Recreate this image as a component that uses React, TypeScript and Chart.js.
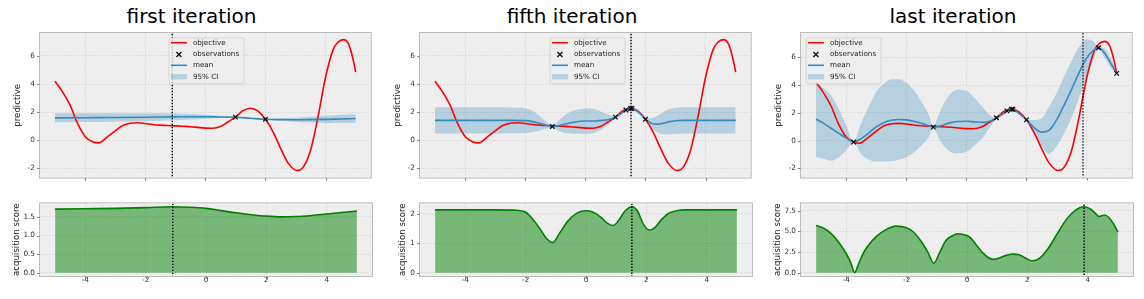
import React, { useEffect, useRef } from 'react';
import { Chart, registerables } from 'chart.js';

Chart.register(...registerables);

const FONT = "'DejaVu Sans', sans-serif";
Chart.defaults.font.family = FONT;
Chart.defaults.color = '#333';

// ---------------- data ----------------
const TITLES = ['first iteration', 'fifth iteration', 'last iteration'];
const X_TICKS = [-4, -2, 0, 2, 4];
const PRED_TICKS = [-2, 0, 2, 4, 6];
const ACQ_TICKS_FIRST = [0, 0.5, 1, 1.5];
const ACQ_TICKS_FIFTH = [0, 1, 2];
const ACQ_TICKS_LAST = [0, 2.5, 5, 7.5];
const LEGEND_LABELS = ['objective', 'observations', 'mean', '95% CI'];

const objectiveX = [-5, -4.75, -4.5, -4.25, -4, -3.75, -3.55, -3.25, -3, -2.75, -2.5, -2.25, -2, -1.75, -1.5, -1.25, -1, -0.75, -0.5, -0.25, 0, 0.25, 0.5, 0.75, 1, 1.25, 1.5, 1.75, 2, 2.25, 2.5, 2.75, 3.05, 3.25, 3.5, 3.75, 4, 4.25, 4.4, 4.6, 4.75, 4.85, 4.95, 5];
const objectiveY = [4.2, 3.45, 2.5, 1.2, 0.28, -0.1, -0.18, 0.26, 0.68, 1.06, 1.22, 1.25, 1.2, 1.13, 1.08, 1.05, 1.03, 1.0, 0.97, 0.92, 0.87, 0.86, 0.98, 1.3, 1.65, 2.1, 2.28, 2.08, 1.5, 0.6, -0.55, -1.6, -2.15, -1.92, -0.7, 1.7, 4.5, 6.45, 6.95, 7.16, 6.9, 6.3, 5.4, 4.85];

// first iteration
const obsFirstX = [1.0, 2.0];
const obsFirstY = [1.65, 1.5];
const meanFirstX = [-5, -4, -3, -2, -1, -0.5, 0, 0.5, 1, 1.5, 2, 2.5, 3, 3.5, 4, 4.5, 5];
const meanFirstY = [1.6, 1.61, 1.62, 1.64, 1.67, 1.68, 1.68, 1.66, 1.64, 1.57, 1.5, 1.47, 1.46, 1.47, 1.49, 1.52, 1.55];
const ciFirst = [0.32, 0.31, 0.3, 0.28, 0.24, 0.2, 0.14, 0.07, 0.01, 0.03, 0.01, 0.08, 0.15, 0.21, 0.26, 0.29, 0.31];
const acqFirstX = [-5, -4, -3, -2, -1.1, -0.5, 0, 0.5, 1, 1.5, 2, 2.5, 3, 3.5, 4, 4.5, 5];
const acqFirstY = [1.71, 1.72, 1.73, 1.75, 1.775, 1.76, 1.73, 1.67, 1.61, 1.56, 1.52, 1.5, 1.51, 1.54, 1.58, 1.62, 1.66];
const nextFirst = -1.1;

// fifth iteration
const obsFifthX = [-1.1, 1.0, 1.35, 1.5, 1.55, 2.0];
const obsFifthY = [0.98, 1.65, 2.15, 2.27, 2.26, 1.5];
const meanFifthX = [-5, -4, -3, -2.5, -2, -1.75, -1.5, -1.3, -1.1, -0.9, -0.6, -0.3, 0, 0.3, 0.6, 0.8, 1, 1.2, 1.35, 1.5, 1.75, 2, 2.2, 2.4, 2.6, 2.8, 3, 3.25, 3.5, 4, 5];
const meanFifthY = [1.42, 1.42, 1.42, 1.42, 1.4, 1.33, 1.2, 1.07, 0.98, 1.03, 1.2, 1.32, 1.37, 1.38, 1.42, 1.5, 1.63, 1.92, 2.13, 2.26, 2.05, 1.5, 1.22, 1.15, 1.22, 1.33, 1.39, 1.42, 1.42, 1.42, 1.42];
const ciFifth = [0.93, 0.93, 0.93, 0.92, 0.88, 0.75, 0.5, 0.25, 0.03, 0.35, 0.7, 0.85, 0.9, 0.85, 0.55, 0.3, 0.03, 0.07, 0.03, 0.03, 0.15, 0.03, 0.35, 0.6, 0.8, 0.9, 0.93, 0.93, 0.93, 0.93, 0.93];
const acqFifthX = [-5, -4, -3, -2.3, -2, -1.75, -1.5, -1.3, -1.1, -0.9, -0.6, -0.3, 0, 0.2, 0.5, 0.7, 0.9, 1.1, 1.3, 1.52, 1.7, 1.9, 2.1, 2.3, 2.5, 2.75, 3, 3.3, 4, 5];
const acqFifthY = [2.13, 2.13, 2.13, 2.12, 2.05, 1.8, 1.45, 1.15, 1.02, 1.3, 1.75, 2.02, 2.1, 2.07, 1.88, 1.68, 1.6, 1.8, 2.1, 2.24, 2.1, 1.65, 1.45, 1.55, 1.8, 2.02, 2.1, 2.13, 2.13, 2.13];
const nextFifth = 1.52;

// last iteration
const obsLastX = [-3.75, -1.1, 1.0, 1.35, 1.5, 1.55, 2.0, 4.4, 5.0];
const obsLastY = [-0.1, 0.98, 1.65, 2.15, 2.27, 2.26, 1.5, 6.7, 4.85];
const meanLastX = [-5, -4.75, -4.5, -4.25, -4, -3.75, -3.5, -3.25, -3, -2.75, -2.5, -2.25, -2, -1.75, -1.5, -1.25, -1.1, -0.9, -0.6, -0.3, 0, 0.3, 0.6, 0.8, 1, 1.2, 1.35, 1.5, 1.75, 2, 2.25, 2.5, 2.75, 3, 3.25, 3.5, 3.75, 4, 4.2, 4.4, 4.6, 4.8, 5];
const meanLastY = [1.55, 1.25, 0.9, 0.55, 0.2, -0.1, 0.15, 0.55, 1.0, 1.3, 1.47, 1.53, 1.5, 1.4, 1.25, 1.07, 0.98, 1.05, 1.25, 1.38, 1.4, 1.35, 1.32, 1.42, 1.63, 1.9, 2.13, 2.25, 1.98, 1.5, 0.95, 0.62, 0.75, 1.5, 2.55, 3.7, 4.9, 5.95, 6.45, 6.7, 6.3, 5.6, 4.85];
const ciLast = [2.75, 2.55, 2.35, 1.75, 0.9, 0.05, 1.1, 1.9, 2.5, 2.8, 2.95, 2.9, 2.7, 2.25, 1.6, 0.8, 0.05, 0.95, 1.95, 2.3, 2.2, 1.65, 0.95, 0.4, 0.05, 0.07, 0.04, 0.04, 0.12, 0.05, 0.55, 1.0, 1.7, 1.9, 2.05, 2.05, 1.85, 1.35, 0.75, 0.05, 0.35, 0.35, 0.05];
const acqLastX = [-5, -4.75, -4.5, -4.25, -4, -3.85, -3.72, -3.6, -3.4, -3, -2.7, -2.35, -2, -1.75, -1.5, -1.3, -1.1, -0.9, -0.7, -0.5, -0.3, -0.1, 0.1, 0.3, 0.5, 0.7, 0.87, 1.05, 1.25, 1.5, 1.75, 1.95, 2.15, 2.4, 2.7, 3, 3.3, 3.6, 3.88, 4.1, 4.25, 4.38, 4.55, 4.7, 4.85, 5];
const acqLastY = [5.72, 5.4, 4.75, 3.7, 2.3, 1.2, 0.0, 1.0, 2.6, 4.4, 5.2, 5.65, 5.45, 4.85, 3.7, 2.5, 1.15, 2.5, 3.9, 4.45, 4.72, 4.6, 4.3, 3.4, 2.5, 1.85, 1.62, 1.75, 2.05, 2.25, 2.15, 1.75, 1.45, 1.75, 3.0, 4.8, 6.5, 7.6, 8.0, 7.7, 7.2, 6.82, 7.0, 6.7, 5.95, 4.93];
const nextLast = 3.88;

// ---------------- layout ----------------
const AXIS_LEFT = [40, 420, 801];
const AXIS_W = 332;
const TITLE_CENTER = [191.5, 572, 953];
const LEGEND_OFFSET = [128.5, 129.5, 4.5];
const PRED_RANGE = [[-2.65, 7.63], [-2.65, 7.63], [-2.66, 7.76]];
const ACQ_RANGE = [[-0.089, 1.864], [-0.112, 2.352], [-0.4, 8.41]];

const GRID_COLOR = '#cbcbcb';
const BLUE = '#348ABD';
const LINE_W = 1.6;

const pts = (xs: number[], ys: number[]) => xs.map((x, i) => ({ x, y: ys[i] }));

function drawLegend(ctx: CanvasRenderingContext2D, a: any, off: number) {
  const bx = a.left + off;
  const by = a.top + 4.3;
  const bw = 75;
  const bh = 46;
  ctx.save();
  ctx.beginPath();
  (ctx as any).roundRect(bx + 0.5, by + 0.5, bw, bh, 2);
  ctx.fillStyle = 'rgba(238,238,238,0.8)';
  ctx.fill();
  ctx.strokeStyle = 'rgba(204,204,204,0.9)';
  ctx.lineWidth = 0.8;
  ctx.stroke();
  const rows = [5.4, 16.7, 28, 39.4];
  const x0 = bx + 2.4;
  const x1 = bx + 18.4;
  ctx.strokeStyle = '#ff0000';
  ctx.lineWidth = LINE_W;
  ctx.beginPath();
  ctx.moveTo(x0, by + rows[0]);
  ctx.lineTo(x1, by + rows[0]);
  ctx.stroke();
  const cx = bx + 10.4;
  const cy = by + rows[1] + 0.5;
  ctx.strokeStyle = '#111';
  ctx.lineWidth = 1.3;
  ctx.beginPath();
  ctx.moveTo(cx - 2.5, cy - 2.5);
  ctx.lineTo(cx + 2.5, cy + 2.5);
  ctx.moveTo(cx - 2.5, cy + 2.5);
  ctx.lineTo(cx + 2.5, cy - 2.5);
  ctx.stroke();
  ctx.strokeStyle = BLUE;
  ctx.lineWidth = LINE_W;
  ctx.beginPath();
  ctx.moveTo(x0, by + rows[2]);
  ctx.lineTo(x1, by + rows[2]);
  ctx.stroke();
  ctx.fillStyle = 'rgba(52,138,189,0.3)';
  ctx.fillRect(x0, by + rows[3] - 2.7, x1 - x0, 5.4);
  ctx.fillStyle = '#222';
  ctx.font = `7.2px ${FONT}`;
  ctx.textBaseline = 'middle';
  ctx.textAlign = 'left';
  LEGEND_LABELS.forEach((t, i) => ctx.fillText(t, bx + 24.4, by + rows[i]));
  ctx.restore();
}

const framePlugin = {
  id: 'frame',
  beforeDraw(chart: any) {
    const { ctx, chartArea: a } = chart;
    ctx.save();
    ctx.fillStyle = '#eeeeee';
    ctx.fillRect(a.left, a.top, a.right - a.left, a.bottom - a.top);
    ctx.restore();
  },
  afterDatasetsDraw(chart: any, _args: any, opts: any) {
    const { ctx, chartArea: a, scales } = chart;
    ctx.save();
    ctx.strokeStyle = '#bcbcbc';
    ctx.lineWidth = 1;
    ctx.strokeRect(a.left - 0.5, a.top - 0.5, a.right - a.left + 1, a.bottom - a.top + 1);
    ctx.strokeStyle = '#666';
    ctx.lineWidth = 0.8;
    ctx.beginPath();
    for (const v of opts.xTicks) {
      const px = Math.round(scales.x.getPixelForValue(v)) + 0.5;
      ctx.moveTo(px, a.bottom + 0.5);
      ctx.lineTo(px, a.bottom + 3);
    }
    for (const v of opts.yTicks) {
      const py = Math.round(scales.y.getPixelForValue(v)) + 0.5;
      ctx.moveTo(a.left - 0.5, py);
      ctx.lineTo(a.left - 3, py);
    }
    ctx.stroke();
    ctx.restore();
    if (opts.showLegend) drawLegend(ctx, a, opts.legendOffset);
  },
};

function xScale(showLabels: boolean) {
  return {
    type: 'linear',
    min: -5.5,
    max: 5.5,
    afterBuildTicks: (s: any) => {
      s.ticks = X_TICKS.map((v) => ({ value: v }));
    },
    afterFit: (s: any) => {
      s.height = showLabels ? 20 : 6;
    },
    grid: { color: GRID_COLOR, lineWidth: 0.6, drawTicks: false },
    border: { display: false, dash: [1.5, 1.5] },
    ticks: {
      display: showLabels,
      padding: 0,
      maxRotation: 0,
      autoSkip: false,
      color: '#333',
      font: { family: FONT, size: 7.3, lineHeight: 1.2 },
      callback: (v: number) => String(v),
    },
  };
}

function yScale(range: number[], ticks: number[], fmt: (v: number) => string, title: string, titlePad: number) {
  return {
    type: 'linear',
    min: range[0],
    max: range[1],
    afterBuildTicks: (s: any) => {
      s.ticks = ticks.map((v) => ({ value: v }));
    },
    afterFit: (s: any) => {
      s.width = 40;
    },
    grid: { color: GRID_COLOR, lineWidth: 0.6, drawTicks: false },
    border: { display: false, dash: [1.5, 1.5] },
    ticks: {
      padding: 5,
      autoSkip: false,
      color: '#333',
      font: { family: FONT, size: 7.3, lineHeight: 1.2 },
      callback: (v: number) => fmt(v),
    },
    title: {
      display: true,
      text: title,
      color: '#222',
      font: { family: FONT, size: 8.6, lineHeight: 1.2 },
      padding: { top: titlePad, bottom: 0 },
    },
  };
}

const baseOptions = (padTop: number, xs: any, ys: any, frame: any) => ({
  responsive: false,
  maintainAspectRatio: false,
  animation: false,
  devicePixelRatio: 1,
  events: [],
  layout: { padding: { left: 0, top: padTop, right: 4, bottom: 0 } },
  plugins: {
    legend: { display: false },
    tooltip: { enabled: false },
    title: { display: false },
    frame,
  },
  scales: { x: xs, y: ys },
});

interface PanelData {
  obsX: number[];
  obsY: number[];
  meanX: number[];
  meanY: number[];
  ci: number[];
  acqX: number[];
  acqY: number[];
  next: number;
  acqTicks: number[];
  acqFmt: (v: number) => string;
  acqTitlePad: number;
}

const PANELS: PanelData[] = [
  { obsX: obsFirstX, obsY: obsFirstY, meanX: meanFirstX, meanY: meanFirstY, ci: ciFirst, acqX: acqFirstX, acqY: acqFirstY, next: nextFirst, acqTicks: ACQ_TICKS_FIRST, acqFmt: (v) => v.toFixed(1), acqTitlePad: 11.5 },
  { obsX: obsFifthX, obsY: obsFifthY, meanX: meanFifthX, meanY: meanFifthY, ci: ciFifth, acqX: acqFifthX, acqY: acqFifthY, next: nextFifth, acqTicks: ACQ_TICKS_FIFTH, acqFmt: (v) => String(v), acqTitlePad: 18 },
  { obsX: obsLastX, obsY: obsLastY, meanX: meanLastX, meanY: meanLastY, ci: ciLast, acqX: acqLastX, acqY: acqLastY, next: nextLast, acqTicks: ACQ_TICKS_LAST, acqFmt: (v) => v.toFixed(1), acqTitlePad: 11.5 },
];

const vlineDataset = (x: number) => ({
  data: [{ x, y: -100 }, { x, y: 100 }],
  borderColor: '#000',
  borderWidth: 1.4,
  borderDash: [1.4, 1.6],
  pointRadius: 0,
  fill: false,
  order: 1,
});

function topConfig(k: number) {
  const p = PANELS[k];
  const lower = p.meanY.map((m, i) => m - p.ci[i]);
  const upper = p.meanY.map((m, i) => m + p.ci[i]);
  return {
    type: 'line',
    data: {
      datasets: [
        { data: pts(p.meanX, lower), borderColor: 'rgba(0,0,0,0)', borderWidth: 0, pointRadius: 0, fill: false, order: 6, cubicInterpolationMode: 'monotone' },
        { data: pts(p.meanX, upper), borderColor: 'rgba(0,0,0,0)', borderWidth: 0, pointRadius: 0, fill: '-1', backgroundColor: 'rgba(52,138,189,0.3)', order: 6, cubicInterpolationMode: 'monotone' },
        { data: pts(objectiveX, objectiveY), borderColor: '#ff0000', borderWidth: LINE_W, pointRadius: 0, fill: false, order: 5, cubicInterpolationMode: 'monotone' },
        { data: pts(p.meanX, p.meanY), borderColor: BLUE, borderWidth: LINE_W, pointRadius: 0, fill: false, order: 4, cubicInterpolationMode: 'monotone' },
        { data: pts(p.obsX, p.obsY), showLine: false, pointStyle: 'crossRot', pointRadius: 3.2, pointBorderColor: '#111', pointBorderWidth: 1.3, pointBackgroundColor: '#111', order: 3 },
        vlineDataset(p.next),
      ],
    },
    options: baseOptions(
      10,
      xScale(false),
      yScale(PRED_RANGE[k], PRED_TICKS, (v) => String(v), 'predictive', 13.1),
      { xTicks: X_TICKS, yTicks: PRED_TICKS, showLegend: true, legendOffset: LEGEND_OFFSET[k] }
    ),
    plugins: [framePlugin],
  };
}

function bottomConfig(k: number) {
  const p = PANELS[k];
  return {
    type: 'line',
    data: {
      datasets: [
        { data: pts(p.acqX, p.acqY), borderColor: '#008000', borderWidth: LINE_W, pointRadius: 0, fill: 'origin', backgroundColor: 'rgba(0,128,0,0.5)', order: 3, cubicInterpolationMode: 'monotone' },
        vlineDataset(p.next),
      ],
    },
    options: baseOptions(
      8,
      xScale(true),
      yScale(ACQ_RANGE[k], p.acqTicks, p.acqFmt, 'acquisition score', p.acqTitlePad),
      { xTicks: X_TICKS, yTicks: p.acqTicks, showLegend: false, legendOffset: 0 }
    ),
    plugins: [framePlugin],
  };
}

function ChartCanvas({ left, top, width, height, make }: { left: number; top: number; width: number; height: number; make: () => any }) {
  const ref = useRef<HTMLCanvasElement>(null);
  useEffect(() => {
    const chart = new Chart(ref.current as HTMLCanvasElement, make());
    return () => chart.destroy();
  }, []);
  return (
    <canvas
      ref={ref}
      width={width}
      height={height}
      style={{ position: 'absolute', left, top, width, height }}
    />
  );
}

export default function App() {
  return (
    <div style={{ position: 'absolute', left: 0, top: 0, width: 1144, height: 299, background: '#fff', overflow: 'hidden' }}>
      {TITLES.map((t, k) => (
        <div
          key={'t' + k}
          style={{
            position: 'absolute',
            left: TITLE_CENTER[k] - 190,
            top: 5.8,
            width: 380,
            textAlign: 'center',
            fontFamily: FONT,
            fontSize: 20,
            lineHeight: '20px',
            color: '#000',
            whiteSpace: 'nowrap',
          }}
        >
          {t}
        </div>
      ))}
      {[0, 1, 2].map((k) => (
        <React.Fragment key={'c' + k}>
          <ChartCanvas left={AXIS_LEFT[k] - 40} top={23} width={40 + AXIS_W + 4} height={164} make={() => topConfig(k)} />
          <ChartCanvas left={AXIS_LEFT[k] - 40} top={194} width={40 + AXIS_W + 4} height={102} make={() => bottomConfig(k)} />
        </React.Fragment>
      ))}
    </div>
  );
}
